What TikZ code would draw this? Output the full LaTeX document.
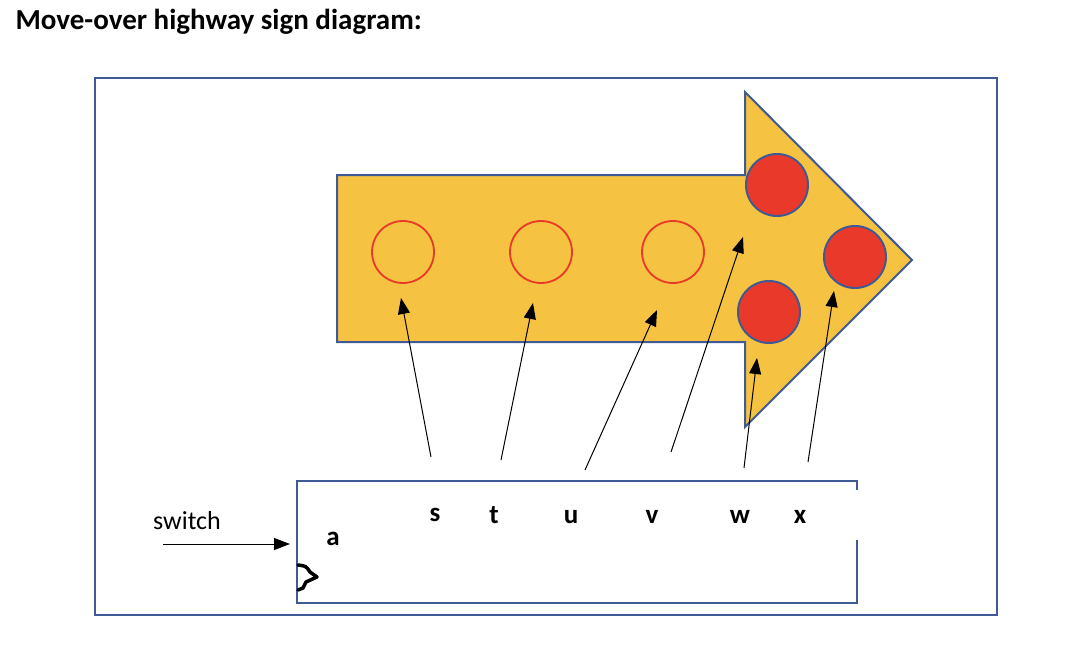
\documentclass[tikz,border=0pt]{standalone}
\usepackage{fontspec}
\setmainfont{Carlito}
\usetikzlibrary{arrows.meta}
\definecolor{bord}{HTML}{3F5A95}
\definecolor{amber}{HTML}{F5C242}
\definecolor{redc}{HTML}{E8392A}
\begin{document}
\begin{tikzpicture}[x=1pt,y=-1pt,
  frame/.style={draw=bord,line width=2pt},
  lamp/.style={circle,draw=redc,line width=1.8pt,minimum size=62pt,inner sep=0pt},
  lit/.style={circle,draw=bord,fill=redc,line width=2pt,minimum size=62pt,inner sep=0pt},
  lbl/.style={font=\bfseries\fontsize{27}{30}\selectfont},
  wire/.style={-{Triangle[length=16pt,width=12pt]},line width=1pt}]
\useasboundingbox (0,0) rectangle (1080,646);
\node[anchor=west,font=\bfseries\fontsize{29}{34}\selectfont] (title) at (12,22) {Move-over highway sign diagram:};
\draw[frame] (95,78) rectangle (997,615);
\draw[frame,fill=amber] (337,175) -- (745,175) -- (745,92) -- (912,260) -- (745,427) -- (745,342) -- (337,342) -- cycle;
\node[lamp] (l1) at (403,252) {};
\node[lamp] (l2) at (541,252) {};
\node[lamp] (l3) at (673,252) {};
\node[lit] (r1) at (777,185) {};
\node[lit] (r2) at (855,257) {};
\node[lit] (r3) at (769,312) {};
\draw[frame] (857,540) -- (857,603) -- (297,603) -- (297,481) -- (857,481) -- (857,490);
\node[lbl] (s) at (435,515) {s};
\node[lbl] (t) at (494,515) {t};
\node[lbl] (u) at (571,517) {u};
\node[lbl] (v) at (652,517) {v};
\node[lbl] (w) at (740,517) {w};
\node[lbl] (x) at (800,517) {x};
\node[lbl] (a) at (333,539) {a};
\node[font=\fontsize{26}{30}\selectfont] (sw) at (187,521) {switch};
\coordinate (c1) at (431,457); \coordinate (d1) at (401,298);
\coordinate (c2) at (501,460); \coordinate (d2) at (533,303);
\coordinate (c3) at (585,470); \coordinate (d3) at (657,310);
\coordinate (c4) at (671,452); \coordinate (d4) at (743,237);
\coordinate (c5) at (744,468); \coordinate (d5) at (757,358);
\coordinate (c6) at (808,462); \coordinate (d6) at (834,291);
\coordinate (sa) at (163,544); \coordinate (sb) at (290,544);
\foreach \i in {1,...,6} {\draw[wire] (c\i) -- (d\i);}
\draw[wire] (sa) -- (sb);
\draw[line width=3.5pt,line cap=round,line join=round] (298,565) .. controls (306,566) .. (310,572) -- (317,577) -- (306,582) -- (303,588) -- (298,590);
\end{tikzpicture}
\end{document}
